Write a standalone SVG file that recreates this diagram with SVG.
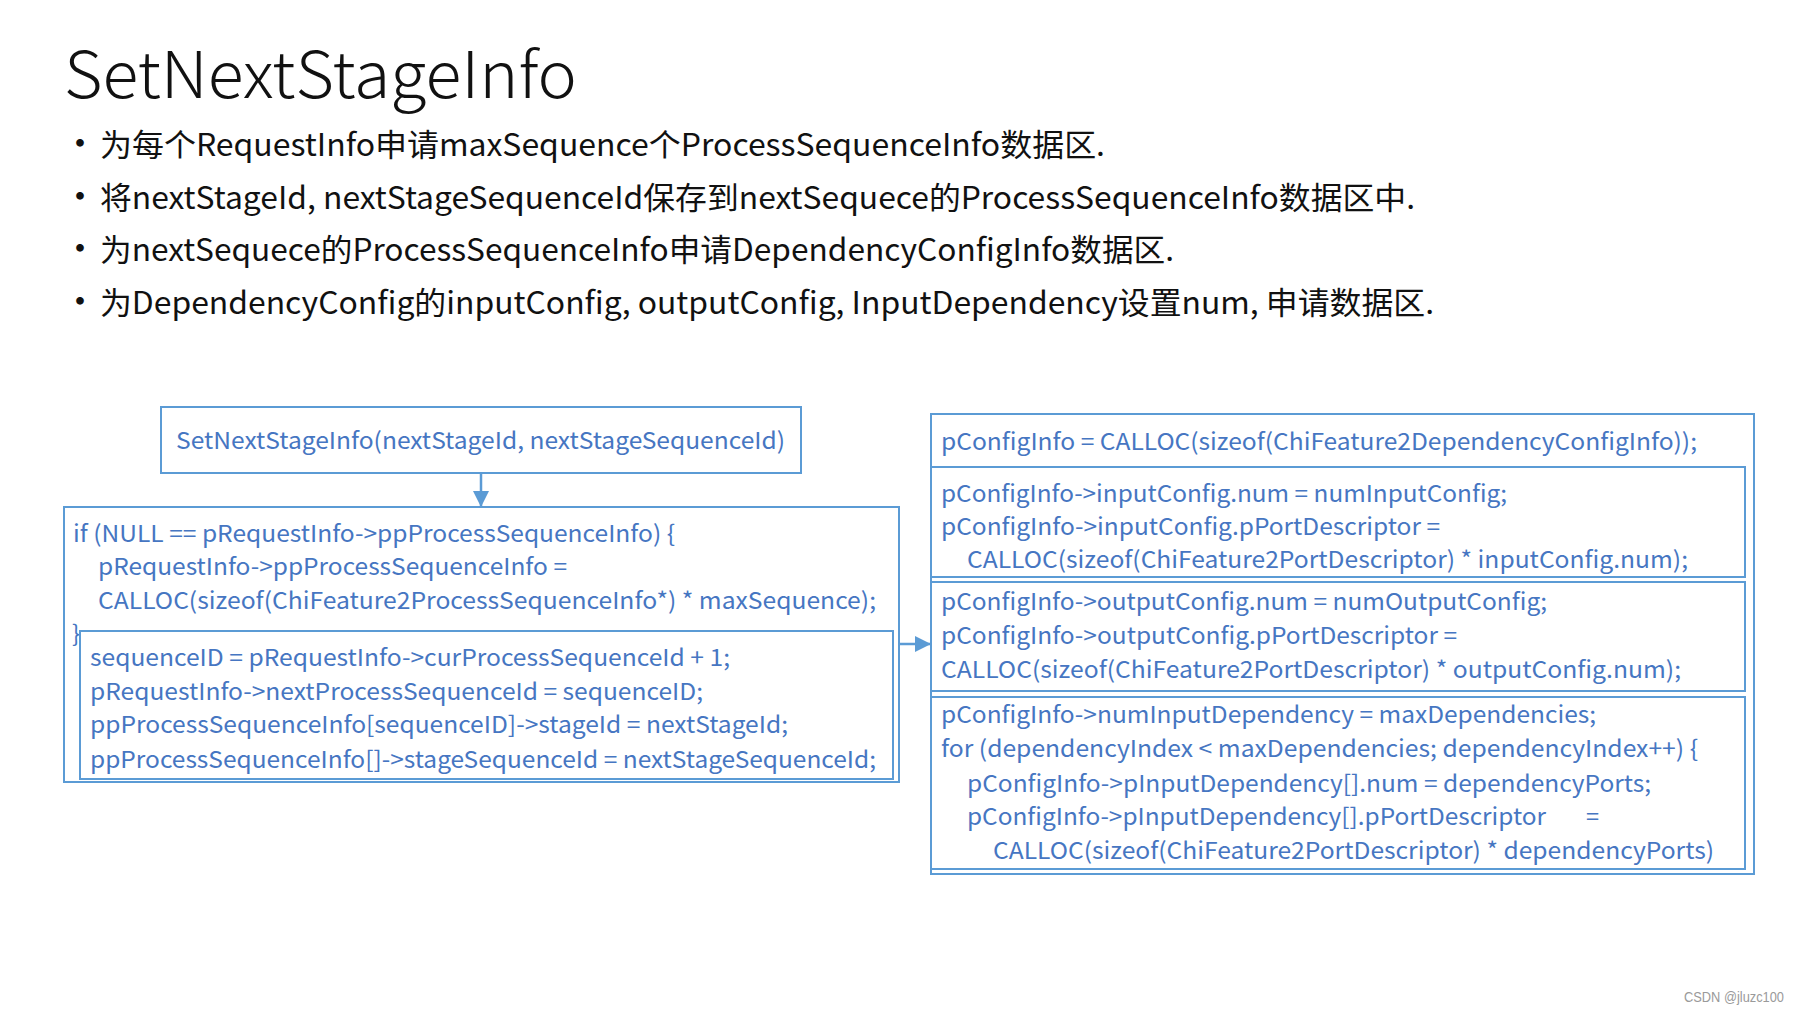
<svg xmlns="http://www.w3.org/2000/svg" width="1800" height="1013" viewBox="0 0 1800 1013">
<style>
  .title { font-family: "Noto Sans CJK SC", "Noto Sans", sans-serif; font-size: 64px; font-weight: 300; fill: #111; }
  .bul { font-family: "Noto Sans CJK SC", "Noto Sans", sans-serif; font-size: 31px; fill: #111; }
  .dot { font-family: "Noto Sans CJK SC", "Noto Sans", sans-serif; font-size: 36px; fill: #111; }
  .code { font-family: "Noto Sans CJK SC", "Noto Sans", sans-serif; font-size: 23.5px; fill: #4676C2; }
  .box { fill: #ffffff; stroke: #5B9BD5; stroke-width: 2; }
  .conn { stroke: #5B9BD5; stroke-width: 2.5; fill: none; marker-end: url(#arr); }
  .wm { font-family: "Liberation Sans", sans-serif; font-size: 14px; fill: #9a9a9a; }
</style>
<defs>
  <marker id="arr" viewBox="0 0 16 16" refX="16" refY="8" markerWidth="16" markerHeight="16" markerUnits="userSpaceOnUse" orient="auto">
    <path d="M0,0 L16,8 L0,16 z" fill="#5B9BD5"/>
  </marker>
</defs>
<rect width="1800" height="1013" fill="#ffffff"/>

<g id="title">
  <text class="title" x="64" y="98" textLength="513" lengthAdjust="spacingAndGlyphs">SetNextStageInfo</text>
</g>

<g id="bullets">
  <text class="dot" x="62" y="157">•</text>
  <text class="bul" x="100" y="156" textLength="1005" lengthAdjust="spacingAndGlyphs">为每个RequestInfo申请maxSequence个ProcessSequenceInfo数据区.</text>
  <text class="dot" x="62" y="210">•</text>
  <text class="bul" x="100" y="209" textLength="1315" lengthAdjust="spacingAndGlyphs">将nextStageId, nextStageSequenceId保存到nextSequece的ProcessSequenceInfo数据区中.</text>
  <text class="dot" x="62" y="262">•</text>
  <text class="bul" x="100" y="261" textLength="1074" lengthAdjust="spacingAndGlyphs">为nextSequece的ProcessSequenceInfo申请DependencyConfigInfo数据区.</text>
  <text class="dot" x="62" y="315">•</text>
  <text class="bul" x="100" y="314" textLength="1334" lengthAdjust="spacingAndGlyphs">为DependencyConfig的inputConfig, outputConfig, InputDependency设置num, 申请数据区.</text>
</g>

<g id="node-call">
  <rect class="box" x="161" y="407" width="640" height="66"/>
  <text class="code" x="176" y="449" textLength="609" lengthAdjust="spacingAndGlyphs">SetNextStageInfo(nextStageId, nextStageSequenceId)</text>
</g>

<g id="node-alloc-seq">
  <rect class="box" x="64" y="507" width="835" height="275"/>
  <text class="code" x="73" y="542" textLength="602" lengthAdjust="spacingAndGlyphs">if (NULL == pRequestInfo-&gt;ppProcessSequenceInfo) {</text>
  <text class="code" x="98" y="575" textLength="469" lengthAdjust="spacingAndGlyphs">pRequestInfo-&gt;ppProcessSequenceInfo =</text>
  <text class="code" x="98" y="609" textLength="778" lengthAdjust="spacingAndGlyphs">CALLOC(sizeof(ChiFeature2ProcessSequenceInfo*) * maxSequence);</text>
  <text class="code" x="72" y="642">}</text>
</g>

<g id="node-set-seq">
  <rect class="box" x="80" y="631" width="813" height="148"/>
  <text class="code" x="90" y="666" textLength="640" lengthAdjust="spacingAndGlyphs">sequenceID = pRequestInfo-&gt;curProcessSequenceId + 1;</text>
  <text class="code" x="90" y="700" textLength="613" lengthAdjust="spacingAndGlyphs">pRequestInfo-&gt;nextProcessSequenceId = sequenceID;</text>
  <text class="code" x="90" y="733" textLength="698" lengthAdjust="spacingAndGlyphs">ppProcessSequenceInfo[sequenceID]-&gt;stageId = nextStageId;</text>
  <text class="code" x="90" y="768" textLength="786" lengthAdjust="spacingAndGlyphs">ppProcessSequenceInfo[]-&gt;stageSequenceId = nextStageSequenceId;</text>
</g>

<g id="node-config">
  <rect class="box" x="931" y="414" width="823" height="460"/>
  <text class="code" x="941" y="450" textLength="756" lengthAdjust="spacingAndGlyphs">pConfigInfo = CALLOC(sizeof(ChiFeature2DependencyConfigInfo));</text>
</g>

<g id="node-input-config">
  <rect class="box" x="931" y="467" width="814" height="110"/>
  <text class="code" x="941" y="502" textLength="566" lengthAdjust="spacingAndGlyphs">pConfigInfo-&gt;inputConfig.num = numInputConfig;</text>
  <text class="code" x="941" y="535" textLength="499" lengthAdjust="spacingAndGlyphs">pConfigInfo-&gt;inputConfig.pPortDescriptor =</text>
  <text class="code" x="967" y="568" textLength="721" lengthAdjust="spacingAndGlyphs">CALLOC(sizeof(ChiFeature2PortDescriptor) * inputConfig.num);</text>
</g>

<g id="node-output-config">
  <rect class="box" x="931" y="582" width="814" height="109"/>
  <text class="code" x="941" y="610" textLength="606" lengthAdjust="spacingAndGlyphs">pConfigInfo-&gt;outputConfig.num = numOutputConfig;</text>
  <text class="code" x="941" y="644" textLength="516" lengthAdjust="spacingAndGlyphs">pConfigInfo-&gt;outputConfig.pPortDescriptor =</text>
  <text class="code" x="941" y="678" textLength="740" lengthAdjust="spacingAndGlyphs">CALLOC(sizeof(ChiFeature2PortDescriptor) * outputConfig.num);</text>
</g>

<g id="node-input-dependency">
  <rect class="box" x="931" y="697" width="814" height="172"/>
  <text class="code" x="941" y="723" textLength="655" lengthAdjust="spacingAndGlyphs">pConfigInfo-&gt;numInputDependency = maxDependencies;</text>
  <text class="code" x="941" y="757" textLength="757" lengthAdjust="spacingAndGlyphs">for (dependencyIndex &lt; maxDependencies; dependencyIndex++) {</text>
  <text class="code" x="967" y="792" textLength="684" lengthAdjust="spacingAndGlyphs">pConfigInfo-&gt;pInputDependency[].num = dependencyPorts;</text>
  <text class="code" x="967" y="825" textLength="579" lengthAdjust="spacingAndGlyphs">pConfigInfo-&gt;pInputDependency[].pPortDescriptor</text>
  <text class="code" x="1586" y="825">=</text>
  <text class="code" x="993" y="859" textLength="721" lengthAdjust="spacingAndGlyphs">CALLOC(sizeof(ChiFeature2PortDescriptor) * dependencyPorts)</text>
</g>

<g id="connectors">
  <line class="conn" x1="481" y1="474" x2="481" y2="507"/>
  <line class="conn" x1="899" y1="644" x2="931" y2="644"/>
</g>

<text class="wm" x="1684" y="1002" textLength="100" lengthAdjust="spacingAndGlyphs">CSDN @jluzc100</text>
</svg>
